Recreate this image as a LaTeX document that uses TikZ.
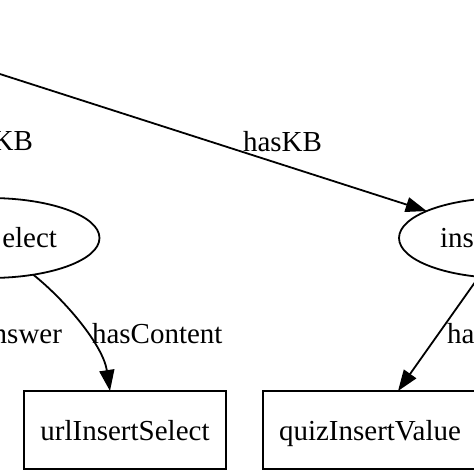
\documentclass[tikz,border=0pt]{standalone}
\usepackage{fontspec}
\setmainfont{Liberation Serif}
\usetikzlibrary{arrows.meta,shapes.geometric}
\begin{document}
\begin{tikzpicture}[x=1bp,y=-1bp,
  every node/.style={font=\fontsize{29bp}{34bp}\selectfont, inner sep=0pt, outer sep=0pt},
  ellnode/.style={draw, ellipse, line width=1.8bp, minimum height=80bp},
  boxnode/.style={draw, rectangle, line width=1.8bp, minimum height=78bp, text height=20bp, text depth=0bp},
  edgelabel/.style={},
  edge/.style={line width=1.8bp, -{Triangle[length=21bp,width=15bp]}}]
\useasboundingbox (0,0) rectangle (474,474);
\clip (0,0) rectangle (474,474);
\node[ellnode, minimum width=220bp] (isel) at (-10.5,238) {};
\node[anchor=base east] (iseltext) at (57,247) {elect};
\node[ellnode, minimum width=212bp] (ival) at (505,238) {};
\node[anchor=base west] (ivaltext) at (440,247) {ins};
\node[boxnode, minimum width=202bp] (uis) at (125,430) {urlInsertSelect};
\node[boxnode, minimum width=214bp] (qiv) at (370,430) {quizInsertValue};
\coordinate (src) at (-50,58);
\draw[edge] (src) -- (ival.161);
\draw[edge] (isel.-40) .. controls (65,300) and (103,345) .. ([xshift=-15bp]uis.north);
\draw[edge] (ival.236) -- ([xshift=28bp]qiv.north);
\node[edgelabel, anchor=base east] (l1) at (33,151) {KB};
\node[edgelabel, anchor=base west] (l2) at (243,152) {hasKB};
\node[edgelabel, anchor=base east] (l3) at (62,343) {nswer};
\node[edgelabel, anchor=base west] (l4) at (92,343) {hasContent};
\node[edgelabel, anchor=base west] (l5) at (447,343) {ha};
\end{tikzpicture}
\end{document}
